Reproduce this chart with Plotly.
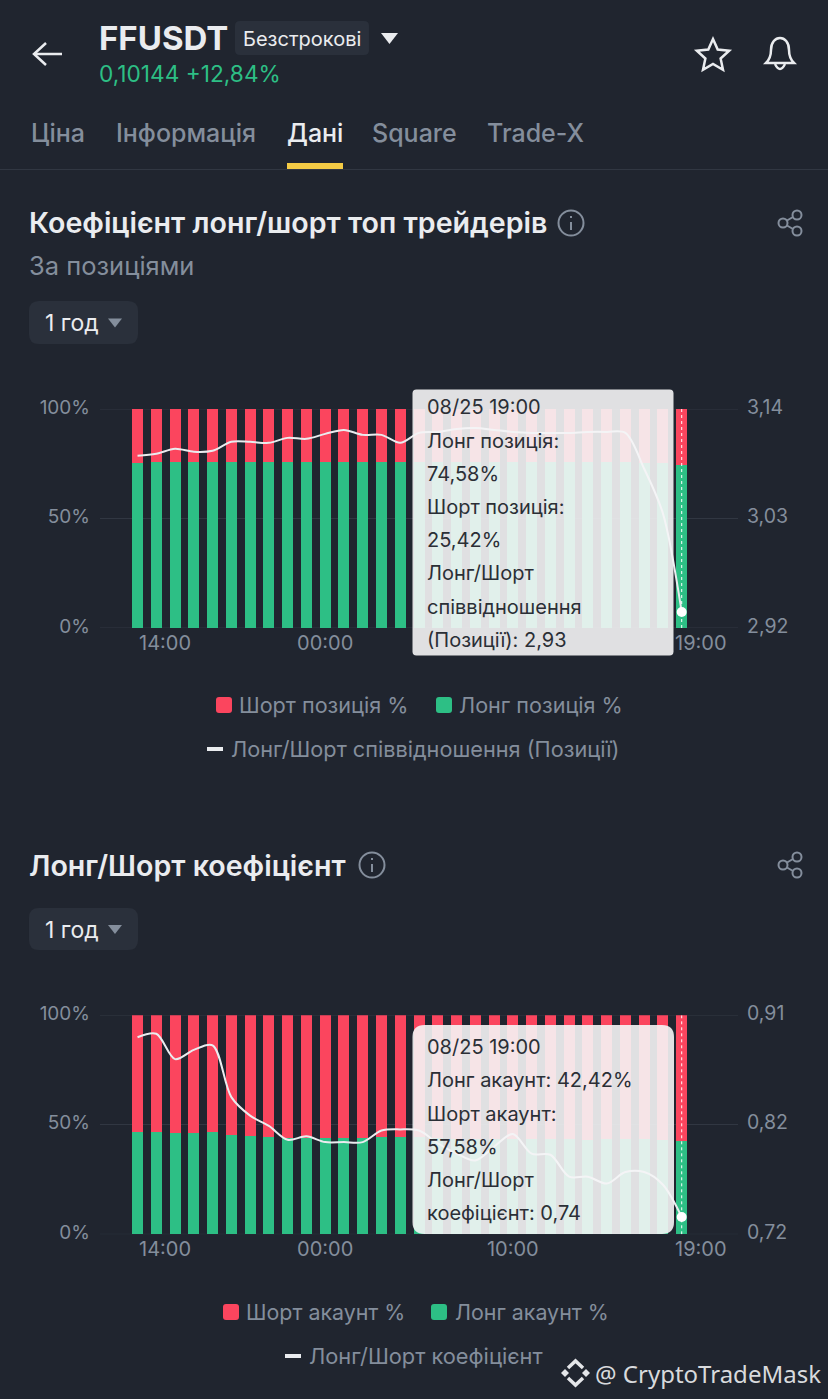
import math
import plotly.graph_objects as go

W = 828
H = 1399
FONT = "Inter"
BG = "#20252F"
PANEL = "#2A303B"
GREY = "#848E9C"
WHITE = "#EAECEF"
RED = "#FB455E"
GREEN = "#2DBF85"
GRID = "#313742"

times = ["08/24 14:00", "08/24 15:00", "08/24 16:00", "08/24 17:00", "08/24 18:00",
         "08/24 19:00", "08/24 20:00", "08/24 21:00", "08/24 22:00", "08/24 23:00",
         "08/25 00:00", "08/25 01:00", "08/25 02:00", "08/25 03:00", "08/25 04:00",
         "08/25 05:00", "08/25 06:00", "08/25 07:00", "08/25 08:00", "08/25 09:00",
         "08/25 10:00", "08/25 11:00", "08/25 12:00", "08/25 13:00", "08/25 14:00",
         "08/25 15:00", "08/25 16:00", "08/25 17:00", "08/25 18:00", "08/25 19:00"]

# top chart, by positions
pos_long = [75.57, 75.58, 75.61, 75.60, 75.60, 75.65, 75.65, 75.65, 75.68, 75.67,
            75.70, 75.72, 75.70, 75.70, 75.65, 75.70, 75.71, 75.73, 75.74, 75.72,
            75.71, 75.70, 75.70, 75.70, 75.71, 75.71, 75.70, 75.50, 75.20, 74.58]
pos_short = [24.43, 24.42, 24.39, 24.40, 24.40, 24.35, 24.35, 24.35, 24.32, 24.33,
             24.30, 24.28, 24.30, 24.30, 24.35, 24.30, 24.29, 24.27, 24.26, 24.28,
             24.29, 24.30, 24.30, 24.30, 24.29, 24.29, 24.30, 24.50, 24.80, 25.42]
pos_ratio = [3.093, 3.095, 3.100, 3.097, 3.098, 3.107, 3.107, 3.106, 3.111, 3.110,
             3.115, 3.119, 3.114, 3.114, 3.106, 3.116, 3.117, 3.120, 3.121, 3.119,
             3.117, 3.116, 3.116, 3.116, 3.117, 3.117, 3.116, 3.080, 3.035, 2.936]

# bottom chart, by accounts
acc_long = [46.7, 46.9, 46.3, 46.4, 46.6, 45.4, 44.9, 44.6, 44.1, 44.1,
            44.0, 44.0, 44.0, 44.3, 44.3, 44.2, 43.8, 43.6, 43.4, 43.5,
            43.7, 43.6, 43.3, 43.3, 43.2, 43.4, 43.4, 43.3, 43.2, 42.42]
acc_short = [53.3, 53.1, 53.7, 53.6, 53.4, 54.6, 55.1, 55.4, 55.9, 55.9,
             56.0, 56.0, 56.0, 55.7, 55.7, 55.8, 56.2, 56.4, 56.6, 56.5,
             56.3, 56.4, 56.7, 56.7, 56.8, 56.6, 56.6, 56.7, 56.8, 57.58]
acc_ratio = [0.891, 0.894, 0.872, 0.880, 0.884, 0.839, 0.823, 0.814, 0.802, 0.805,
             0.800, 0.800, 0.800, 0.810, 0.811, 0.810, 0.799, 0.790, 0.784, 0.796,
             0.807, 0.790, 0.789, 0.770, 0.770, 0.764, 0.774, 0.774, 0.763, 0.735]

pct_ticks = [0, 50, 100]
pct_labels = ["0%", "50%", "100%"]
pos_ticks = [2.92, 3.03, 3.14]
# middle tick sits halfway up the axis and rounds to 0,82
acc_ticks = [0.72, 0.8152, 0.91]

tabs = ["Ціна", "Інформація", "Дані", "Square", "Trade-X"]
tooltip_pos = ["08/25 19:00", "Лонг позиція:", "74,58%", "Шорт позиція:", "25,42%",
               "Лонг/Шорт", "співвідношення", "(Позиції): 2,93"]
tooltip_acc = ["08/25 19:00", "Лонг акаунт: 42,42%", "Шорт акаунт:", "57,58%",
               "Лонг/Шорт", "коефіцієнт: 0,74"]


def fx(x):
    return x / W


def fy(y):
    return 1 - y / H


def pt(x, y):
    return f"{fx(x):.5f},{fy(y):.5f}"


def path_of(points, close=True):
    return "M" + " L".join(pt(x, y) for x, y in points) + (" Z" if close else "")


def round_rect(x0, y0, x1, y1, r):
    return (f"M{pt(x0 + r, y0)} L{pt(x1 - r, y0)} Q{pt(x1, y0)} {pt(x1, y0 + r)} "
            f"L{pt(x1, y1 - r)} Q{pt(x1, y1)} {pt(x1 - r, y1)} "
            f"L{pt(x0 + r, y1)} Q{pt(x0, y1)} {pt(x0, y1 - r)} "
            f"L{pt(x0, y0 + r)} Q{pt(x0, y0)} {pt(x0 + r, y0)} Z")


shapes = []
annotations = []


def label(x, y, text, size, color, anchor="left", weight=400, family=FONT):
    annotations.append(dict(x=fx(x), y=fy(y), xref="paper", yref="paper", text=text,
                            showarrow=False, xanchor=anchor, yanchor="middle",
                            borderpad=0, borderwidth=0,
                            font=dict(size=size, color=color, family=family, weight=weight)))


def fill_path(path, color, opacity=1, layer="above"):
    shapes.append(dict(type="path", path=path, xref="paper", yref="paper", fillcolor=color,
                       line=dict(width=0), opacity=opacity, layer=layer))


def line_path(path, color, width, layer="above"):
    shapes.append(dict(type="path", path=path, xref="paper", yref="paper",
                       line=dict(color=color, width=width), layer=layer))


def ring(cx, cy, r, color, width):
    shapes.append(dict(type="circle", xref="paper", yref="paper", x0=fx(cx - r), x1=fx(cx + r),
                       y0=fy(cy + r), y1=fy(cy - r), line=dict(color=color, width=width)))


def info_icon(cx, cy):
    ring(cx, cy, 12.5, GREY, 2)
    line_path(path_of([(cx, cy - 1), (cx, cy + 7)], False), GREY, 2)
    line_path(path_of([(cx, cy - 7), (cx, cy - 5)], False), GREY, 2)


def share_icon(cx, cy):
    ring(cx - 7, cy, 4.5, GREY, 2)
    ring(cx + 7, cy - 8, 4.5, GREY, 2)
    ring(cx + 7, cy + 8, 4.5, GREY, 2)
    line_path(path_of([(cx - 3, cy - 2.5), (cx + 3, cy - 6)], False), GREY, 2)
    line_path(path_of([(cx - 3, cy + 2.5), (cx + 3, cy + 6)], False), GREY, 2)


def dropdown(y0, y1):
    fill_path(round_rect(29, y0, 138, y1, 10), PANEL)
    mid = (y0 + y1) / 2
    label(45, mid + 1, "1 год", 23, WHITE)
    fill_path(path_of([(108, mid - 4), (122, mid - 4), (115, mid + 5)]), GREY)


def swatch(x, y, color):
    fill_path(round_rect(x, y - 8, x + 16, y + 8, 3), color)


# header
line_path(path_of([(34, 54), (62, 54)], False), WHITE, 2.5)
line_path(path_of([(46, 43), (34, 54), (46, 65)], False), WHITE, 2.5)
label(99, 38, "FFUSDT", 33, WHITE, weight=700)
fill_path(round_rect(235, 21, 369, 55, 5), PANEL)
label(302, 39, "Безстрокові", 20, WHITE, anchor="center")
fill_path(path_of([(381, 33), (398, 33), (389.5, 44)]), WHITE)
label(99, 73, "0,10144 +12,84%", 22.7, GREEN)

star = []
for k in range(10):
    r = 17 if k % 2 == 0 else 8
    a = -math.pi / 2 + k * math.pi / 5
    star.append((713 + r * math.cos(a), 56 + r * math.sin(a)))
line_path(path_of(star), WHITE, 2.5)
bell = (f"M{pt(766, 63)} Q{pt(771, 58)} {pt(771, 50)} C{pt(771, 34)} {pt(789, 34)} {pt(789, 50)} "
        f"Q{pt(789, 58)} {pt(794, 63)} Z")
line_path(bell, WHITE, 2.5)
line_path(f"M{pt(775, 64)} Q{pt(780, 74)} {pt(785, 64)}", WHITE, 2.5)

# tabs
for x, text in zip([31, 116, 287, 372, 487], tabs):
    label(x, 133, text, 25, WHITE if text == "Дані" else GREY, weight=500)
fill_path(path_of([(0, 169), (828, 169), (828, 170), (0, 170)]), GRID)
fill_path(path_of([(287, 163), (343, 163), (343, 169), (287, 169)]), "#F4CB45")

# section heads
label(29, 223, "Коефіцієнт лонг/шорт топ трейдерів", 28.6, WHITE, weight=600)
info_icon(571, 223)
share_icon(790, 223)
label(29, 265, "За позиціями", 25.5, GREY)
dropdown(301, 344)

label(29, 865, "Лонг/Шорт коефіцієнт", 28.6, WHITE, weight=600)
info_icon(372, 865)
share_icon(790, 865)
dropdown(908, 950)

# legends
swatch(216, 705, RED)
label(239, 705, "Шорт позиція %", 21.6, GREY)
swatch(436, 705, GREEN)
label(459, 705, "Лонг позиція %", 21.6, GREY)
line_path(path_of([(207, 749), (223, 749)], False), WHITE, 4)
label(231, 749, "Лонг/Шорт співвідношення (Позиції)", 21.7, GREY)

swatch(223, 1312, RED)
label(246, 1312, "Шорт акаунт %", 21.4, GREY)
swatch(431, 1312, GREEN)
label(455, 1312, "Лонг акаунт %", 21.4, GREY)
line_path(path_of([(285, 1356), (301, 1356)], False), WHITE, 4)
label(309, 1356, "Лонг/Шорт коефіцієнт", 21.8, GREY)

# watermark
for cx, cy in [(565, 1373), (586, 1373)]:
    fill_path(path_of([(cx, cy - 4), (cx + 4, cy), (cx, cy + 4), (cx - 4, cy)]), "#E4E6E9")
line_path(path_of([(568, 1368), (575.5, 1361), (583, 1368)], False), "#E4E6E9", 3.5)
line_path(path_of([(568, 1378), (575.5, 1385), (583, 1378)], False), "#E4E6E9", 3.5)
label(595, 1373, "@ CryptoTradeMask", 24, "#D8DADD", family="Noto Sans")

# tooltips
fill_path(round_rect(412.5, 389.5, 673.5, 655.5, 4), "#F5F5F6", opacity=0.9)
for y, text in zip([406.5, 441, 474, 507, 540, 573, 606.5, 640], tooltip_pos):
    label(427, y, text, 20, "#2B2F36")
fill_path(round_rect(412.5, 1025, 674, 1234, 12), "#F5F5F6", opacity=0.9)
for y, text in zip([1047, 1080, 1114, 1147, 1180, 1213], tooltip_acc):
    label(427, y, text, 20, "#2B2F36")


def add_block(fig, long_vals, short_vals, ratio, xa, ya, ya2, names):
    fig.add_bar(x=times, y=long_vals, name=names[0], marker=dict(color=GREEN, line_width=0),
                width=0.586, xaxis=xa, yaxis=ya)
    fig.add_bar(x=times, y=short_vals, name=names[1], marker=dict(color=RED, line_width=0),
                width=0.586, xaxis=xa, yaxis=ya)
    fig.add_scatter(x=times, y=ratio, name=names[2], mode="lines",
                    line=dict(color=WHITE, width=2, shape="spline", smoothing=0.9),
                    xaxis=xa, yaxis=ya2)
    fig.add_scatter(x=times[-1:], y=ratio[-1:], mode="markers", showlegend=False,
                    marker=dict(color="white", size=10), xaxis=xa, yaxis=ya2)


fig = go.Figure()
add_block(fig, pos_long, pos_short, pos_ratio, "x", "y", "y2",
          ["Лонг позиція %", "Шорт позиція %", "Лонг/Шорт співвідношення (Позиції)"])
add_block(fig, acc_long, acc_short, acc_ratio, "x2", "y3", "y4",
          ["Лонг акаунт %", "Шорт акаунт %", "Лонг/Шорт коефіцієнт"])

x_style = dict(type="category", range=[-2, 32], domain=[fx(100), fx(738)], showgrid=False,
               zeroline=False, showline=False, ticks="", tickmode="array", automargin=False,
               tickfont=dict(size=20, color=GREY, family=FONT), ticklabelstandoff=1)
left_style = dict(range=[0, 100], tickmode="array", tickvals=pct_ticks, ticktext=pct_labels,
                  showgrid=True, gridcolor=GRID, gridwidth=1, zeroline=False, automargin=False,
                  tickfont=dict(size=19, color=GREY, family=FONT), ticklabelstandoff=9,
                  ticklabelshift=-2)
right_style = dict(side="right", showgrid=False, zeroline=False, tickmode="array", automargin=False,
                   tickformat=".2f", tickfont=dict(size=19.5, color=GREY, family=FONT),
                   ticklabelstandoff=8, ticklabelshift=-2)

fig.update_layout(
    width=W, height=H, margin=dict(l=0, r=0, t=0, b=0, pad=0, autoexpand=False), autosize=False,
    paper_bgcolor=BG, plot_bgcolor=BG, barmode="stack", showlegend=False,
    separators=", ", hovermode=False,
    font=dict(family=FONT),
    # the 10:00 label of the top chart lies behind the tooltip
    xaxis=dict(x_style, anchor="y", tickvals=["08/25 00:00"], ticktext=["00:00"]),
    xaxis2=dict(x_style, anchor="y3", tickvals=["08/25 00:00", "08/25 10:00"], ticktext=["00:00", "10:00"]),
    yaxis=dict(left_style, domain=[fy(628), fy(409)], anchor="x"),
    yaxis2=dict(right_style, overlaying="y", anchor="x", range=[2.92, 3.14], tickvals=pos_ticks),
    yaxis3=dict(left_style, domain=[fy(1234.3), fy(1015.3)], anchor="x2"),
    yaxis4=dict(right_style, overlaying="y3", anchor="x2", range=[0.72, 0.91], tickvals=acc_ticks),
    shapes=shapes,
    annotations=annotations,
)

for xa, ya in [("x", "y"), ("x2", "y3")]:
    # plotly drops gridlines at the ends of the range, so the 0% and 100% ones are added here
    for tick in [pct_ticks[0], pct_ticks[-1]]:
        fig.add_shape(type="line", x0=fx(100), x1=fx(738), y0=tick, y1=tick, xref="paper", yref=ya,
                      line=dict(color=GRID, width=1), layer="below")
    # crosshair at the hovered bar and the two edge time labels, which sit off their bars
    fig.add_shape(type="line", x0=times[-1], x1=times[-1], y0=0, y1=100, xref=xa, yref=ya,
                  line=dict(color="white", width=1, dash="3px,3px"), layer="above")
    row_y = 643 if xa == "x" else 1249
    fig.add_annotation(x=times[0], y=fy(row_y), xref=xa, yref="paper", text="14:00", showarrow=False,
                       xshift=27.5, yanchor="middle", font=dict(size=20, color=GREY, family=FONT))
    fig.add_annotation(x=times[-1], y=fy(row_y), xref=xa, yref="paper", text="19:00", showarrow=False,
                       xshift=19.5, yanchor="middle", font=dict(size=20, color=GREY, family=FONT))

fig.write_html("out.html", config={"displayModeBar": False},
               post_script="document.body.style.margin='0';document.body.style.overflow='hidden';"
                           f"document.body.style.background='{BG}';")
